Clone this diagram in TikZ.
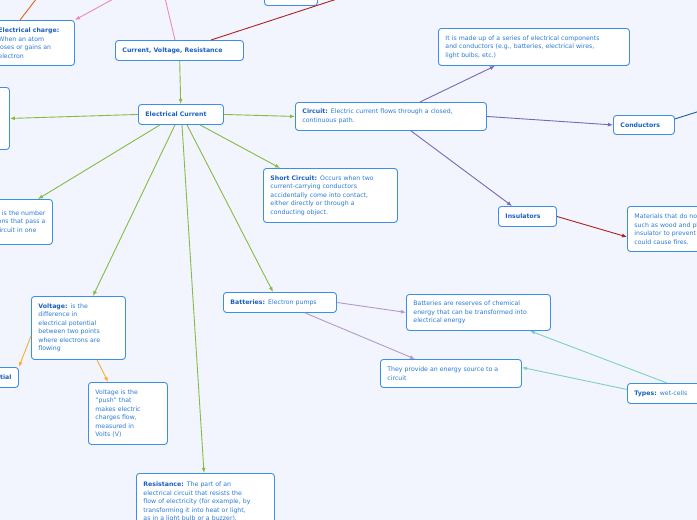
\documentclass[tikz,border=0pt]{standalone}
\usepackage{fontspec}
\usetikzlibrary{arrows.meta}
\setmainfont{DejaVu Sans}
\definecolor{bg}{HTML}{F2F5FD}
\definecolor{bd}{HTML}{3D8EE8}
\definecolor{tx}{HTML}{2A7AD8}
\definecolor{tb}{HTML}{1B5FC0}
\definecolor{gr}{HTML}{88BB44}
\definecolor{pu}{HTML}{7A66B8}
\definecolor{lp}{HTML}{B399CC}
\definecolor{te}{HTML}{7FCFC4}
\definecolor{orr}{HTML}{F5B030}
\definecolor{pk}{HTML}{EE88BB}
\definecolor{dr}{HTML}{B02020}
\definecolor{rr}{HTML}{E85C20}
\definecolor{db}{HTML}{1A5FA0}
\begin{document}
\begin{tikzpicture}[x=1pt,y=-1pt,
  box/.style={draw=bd,line width=0.9pt,fill=white,rounded corners=3pt,anchor=north west,align=left,inner xsep=7pt,inner ysep=2pt,text=tx,font=\fontsize{6.2}{8.5}\selectfont},
  ed/.style={line width=0.9pt,-{Latex[length=5pt,width=4pt]}},
  ln/.style={line width=0.9pt}]
\useasboundingbox (0,0) rectangle (697,520);
\fill[bg] (0,0) rectangle (697,520);
\clip (0,0) rectangle (697,520);
\newcommand\bx[6]{\node[box,minimum width={#4-#2},minimum height={#5-#3},text width={#4-#2-14}] (#1) at (#2,#3) {#6};}
\newcommand\tb[1]{\textcolor{tb}{\textbf{#1}}}
\bx{top}{264}{-10}{317}{5}{}
\bx{ch}{-9}{20}{74}{65}{\tb{Electrical charge:}\\When an atom\\loses or gains an\\electron}
\bx{cvr}{115}{40}{243}{60}{\tb{Current, Voltage, Resistance}}
\bx{ec}{138}{104}{223}{124}{\tb{Electrical Current}}
\bx{lb}{-20}{87}{9}{149}{}
\bx{it}{-90}{199}{52}{244}{\hfill Intensity: is the number\hspace*{9pt}\\\hfill of electrons that pass a\hspace*{9pt}\\\hfill point in a circuit in one\hspace*{9pt}}
\bx{sc}{263}{168}{397}{222}{\tb{Short Circuit:} Occurs when two\\current-carrying conductors\\accidentally come into contact,\\either directly or through a\\conducting object.}
\bx{ci}{295}{102}{486}{130}{\tb{Circuit:} Electric current flows through a closed,\\continuous path.}
\bx{mu}{438}{28}{629}{65}{It is made up of a series of electrical components\\and conductors (e.g., batteries, electrical wires,\\light bulbs, etc.)}
\bx{co}{613}{115}{674}{134}{\tb{Conductors}}
\bx{in}{498}{206}{556}{226}{\tb{Insulators}}
\bx{ma}{627}{206}{760}{251}{Materials that do not\\such as wood and plastic\\insulator to prevent\\could cause fires.}
\bx{ba}{223}{292}{336}{312}{\tb{Batteries:} Electron pumps}
\bx{re}{406}{294}{550}{330}{Batteries are reserves of chemical\\energy that can be transformed into\\electrical energy}
\bx{pr}{380}{359}{521}{387}{They provide an energy source to a\\circuit}
\bx{ty}{627}{383}{720}{403}{\tb{Types:} wet-cells}
\bx{vo}{31}{296}{125}{359}{\tb{Voltage:} is the\\difference in\\electrical potential\\between two points\\where electrons are\\flowing}
\bx{po}{-60}{367}{18}{387}{\hfill\tb{Potential}}
\bx{pu}{88}{382}{167}{444}{Voltage is the\\``push'' that\\makes electric\\charges flow,\\measured in\\Volts (V)}
\bx{rs}{136}{473}{274}{530}{\tb{Resistance:} The part of an\\electrical circuit that resists the\\flow of electricity (for example, by\\transforming it into heat or light,\\as in a light bulb or a buzzer).}
\coordinate (p1) at (115,-2); \coordinate (p2) at (165,-2);
\coordinate (o1) at (37,-2); \coordinate (d1) at (340,-2);
\coordinate (b1) at (700,111);
\draw[ed,pk] (p1) -- (ch.north east);
\draw[ln,pk] (p2) -- ([xshift=60pt]cvr.north west);
\draw[ln,rr] (o1) -- ([xshift=29pt]ch.north west);
\draw[ln,dr] ([xshift=96pt]cvr.north west) -- (d1);
\draw[ln,db] (co.east) ++(0,-6) -- (b1);
\draw[ed,gr] (cvr) -- (ec);
\draw[ed,gr] (ec.west) -- (lb.east);
\draw[ed,gr] (ec.east) -- (ci.west);
\draw[ed,gr] ([xshift=22pt]ec.south west) -- ([xshift=128pt]it.north west);
\draw[ed,gr] ([xshift=37pt]ec.south west) -- ([xshift=62pt]vo.north west);
\draw[ed,gr] ([xshift=44pt]ec.south west) -- ([xshift=68pt]rs.north west);
\draw[ed,gr] ([xshift=49pt]ec.south west) -- ([xshift=50pt]ba.north west);
\draw[ed,gr] ([xshift=62pt]ec.south west) -- ([xshift=17pt]sc.north west);
\draw[ed,pu] ([xshift=125pt]ci.north west) -- ([xshift=57pt]mu.south west);
\draw[ed,pu] (ci.east) -- (co.west);
\draw[ed,pu] ([xshift=116pt]ci.south west) -- ([xshift=14pt]in.north west);
\draw[ed,dr] (in.east) -- ([yshift=-8pt]ma.west);
\draw[ed,lp] (ba.east) -- (re.west);
\draw[ed,lp] ([xshift=82pt]ba.south west) -- ([xshift=35pt]pr.north west);
\draw[ed,te] ([xshift=40pt]ty.north west) -- ([xshift=124pt]re.south west);
\draw[ed,te] ([yshift=4pt]ty.west) -- ([yshift=6pt]pr.east);
\draw[ed,orr] ([yshift=-8pt]vo.west) -- (po.north east);
\draw[ed,orr] ([xshift=66pt]vo.south west) -- ([xshift=20pt]pu.north west);
\end{tikzpicture}
\end{document}
